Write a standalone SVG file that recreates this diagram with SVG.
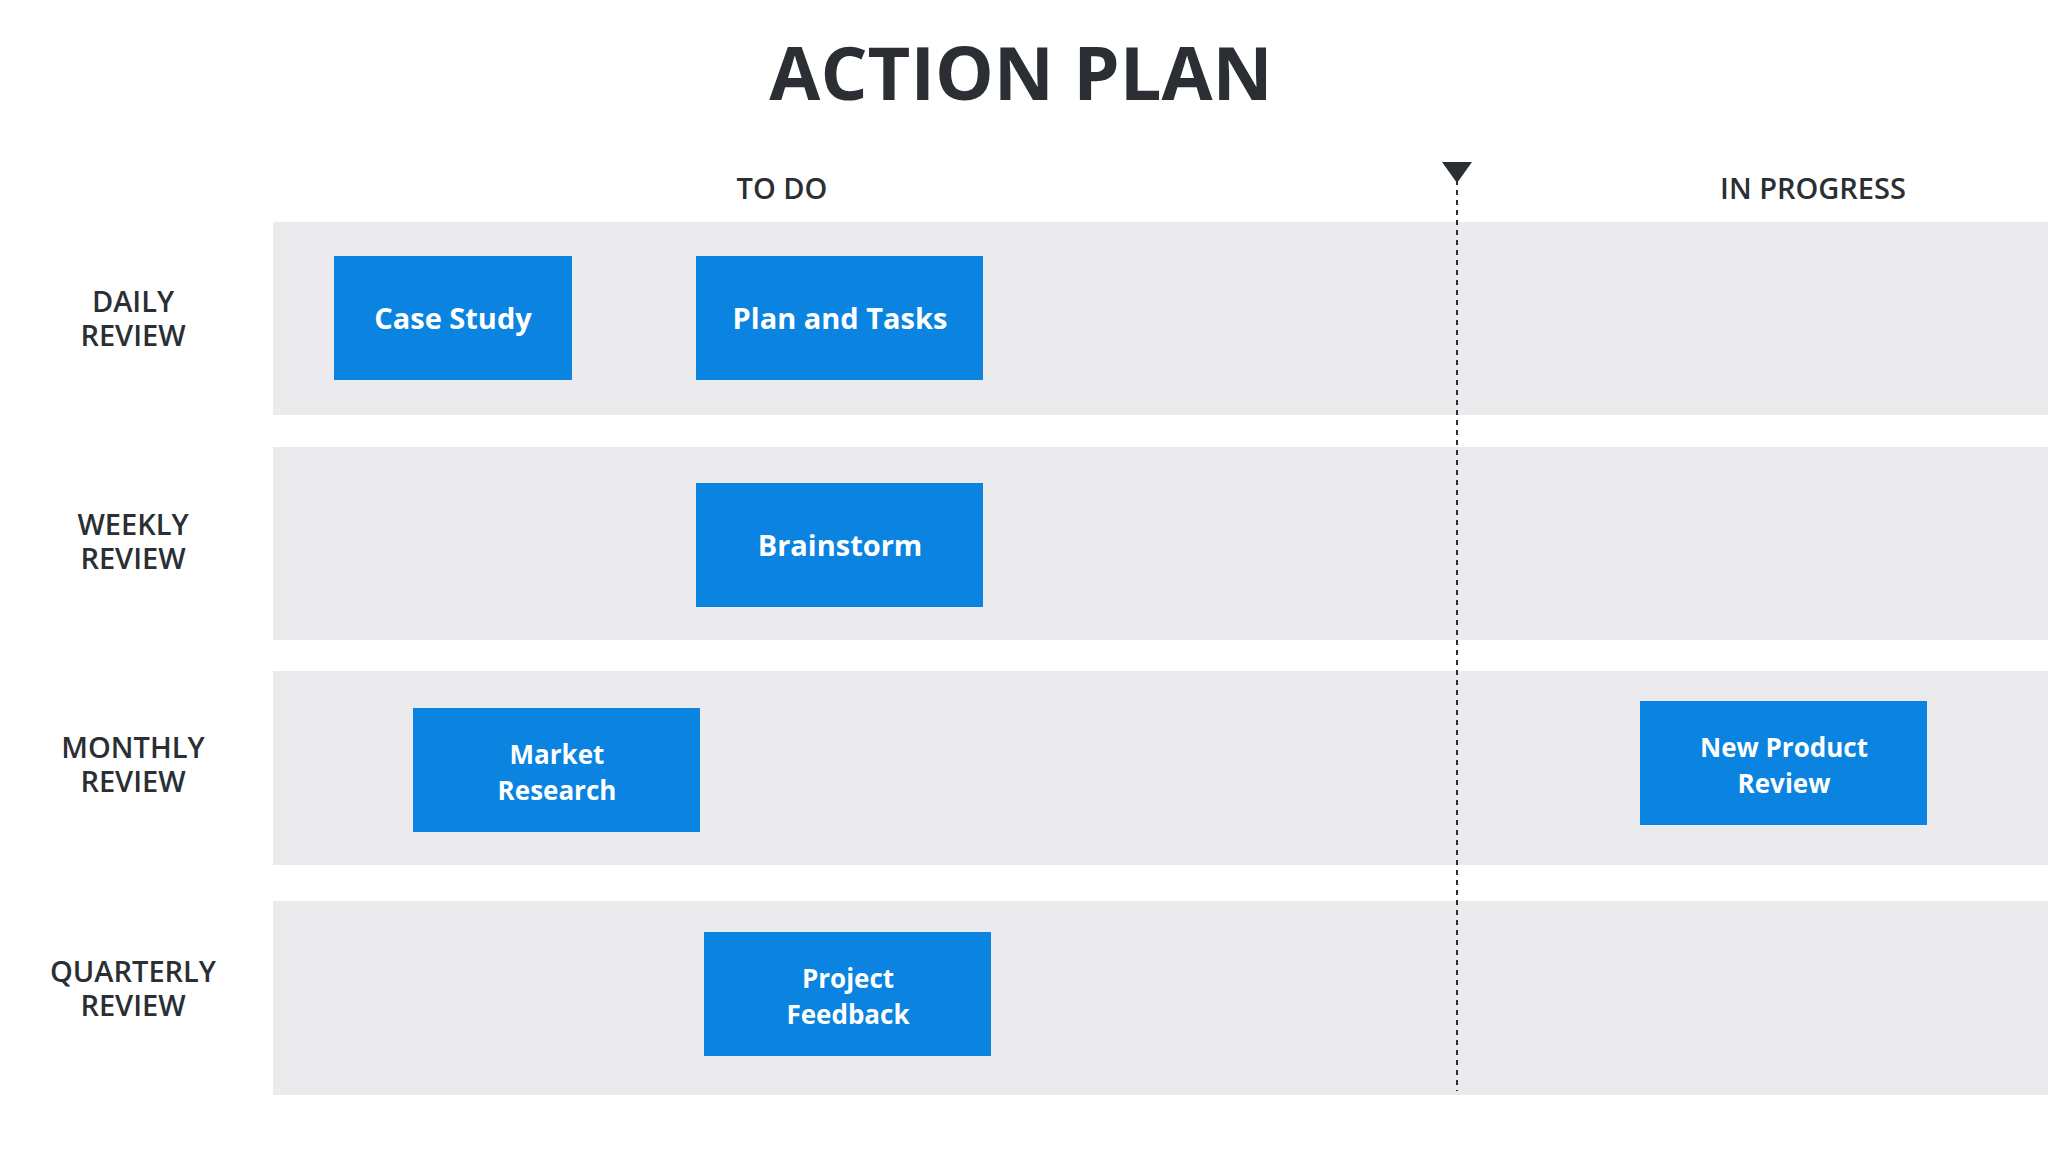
<svg xmlns="http://www.w3.org/2000/svg" width="2048" height="1152" viewBox="0 0 2048 1152">
<style>
.lane{fill:#ebeaec}
.box{fill:#0a84e0}
.bt{font-family:"Open Sans","Liberation Sans",sans-serif;font-weight:bold;font-size:29px;fill:#fff;text-anchor:middle}
.bt2{font-family:"Open Sans","Liberation Sans",sans-serif;font-weight:bold;font-size:26px;fill:#fff;text-anchor:middle}
.rl{font-family:"Open Sans","Liberation Sans",sans-serif;font-weight:600;font-size:29px;fill:#2b2f33;text-anchor:middle}
</style>
<rect width="2048" height="1152" fill="#fff"/>
<text x="1021" y="100" font-family="'Open Sans','Liberation Sans',sans-serif" font-weight="bold" font-size="74" fill="#2b2f33" text-anchor="middle">ACTION PLAN</text>
<text class="rl" x="782" y="199">TO DO</text>
<text class="rl" x="1813" y="199">IN PROGRESS</text>
<g id="lanes">
<rect class="lane" x="273" y="222" width="1775" height="193"/>
<rect class="lane" x="273" y="447" width="1775" height="193"/>
<rect class="lane" x="273" y="671" width="1775" height="194"/>
<rect class="lane" x="273" y="901" width="1775" height="194"/>
</g>
<g id="row-labels">
<text class="rl" x="133" y="312">DAILY</text><text class="rl" x="133" y="346">REVIEW</text>
<text class="rl" x="133" y="535">WEEKLY</text><text class="rl" x="133" y="569">REVIEW</text>
<text class="rl" x="133" y="758">MONTHLY</text><text class="rl" x="133" y="792">REVIEW</text>
<text class="rl" x="133" y="982">QUARTERLY</text><text class="rl" x="133" y="1016">REVIEW</text>
</g>
<g id="connectors">
<line x1="1457" y1="180" x2="1457" y2="1091" stroke="#2b2f33" stroke-width="2" stroke-dasharray="5,5"/>
<polygon points="1442,162 1472,162 1457,183" fill="#2b2f33"/>
</g>
<g id="case-study"><rect class="box" x="334" y="256" width="238" height="124"/><text class="bt" x="453" y="329">Case Study</text></g>
<g id="plan-tasks"><rect class="box" x="696" y="256" width="287" height="124"/><text class="bt" x="840" y="329">Plan and Tasks</text></g>
<g id="brainstorm"><rect class="box" x="696" y="483" width="287" height="124"/><text class="bt" x="840" y="556">Brainstorm</text></g>
<g id="market-research"><rect class="box" x="413" y="708" width="287" height="124"/><text class="bt2" x="557" y="764">Market</text><text class="bt2" x="557" y="800">Research</text></g>
<g id="new-product-review"><rect class="box" x="1640" y="701" width="287" height="124"/><text class="bt2" x="1784" y="757">New Product</text><text class="bt2" x="1784" y="793">Review</text></g>
<g id="project-feedback"><rect class="box" x="704" y="932" width="287" height="124"/><text class="bt2" x="848" y="988">Project</text><text class="bt2" x="848" y="1024">Feedback</text></g>
</svg>
